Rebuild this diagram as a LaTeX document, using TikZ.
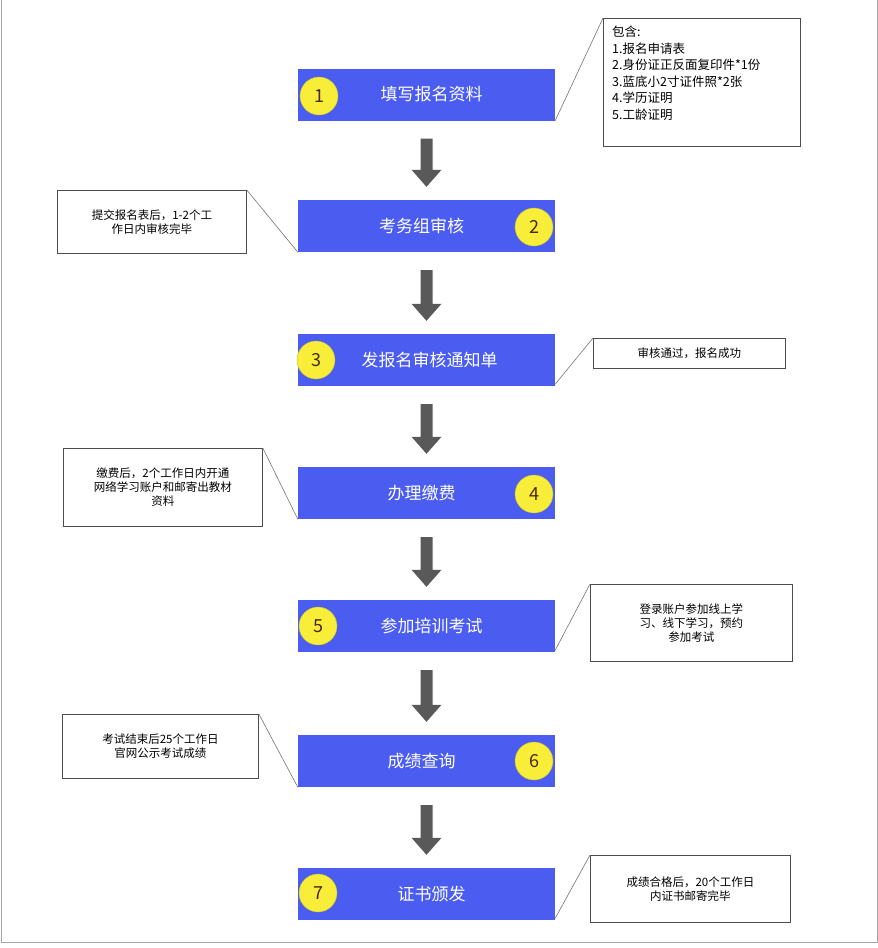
\documentclass[tikz,border=0pt]{standalone}
\usepackage{fontspec}
\usetikzlibrary{calc}
\setmainfont{Noto Sans CJK SC}
\begin{document}
\begin{tikzpicture}[x=1pt,y=-1pt,
  stepbox/.style={draw=none,fill=stepblue,minimum width=257pt,minimum height=52pt,inner sep=0pt,text=white,font=\fontsize{17}{19}\selectfont},
  num/.style={circle,fill=numyellow,draw=numyellow!80!black,line width=0.4pt,minimum size=38pt,inner sep=0pt,font=\fontsize{18}{20}\selectfont,text=black!70!orange},
  note/.style={draw=black!70,line width=0.8pt,fill=white,font=\fontsize{11.5}{14}\selectfont,align=center,inner sep=3pt},
  lead/.style={draw=black!55,line width=0.6pt}]
\definecolor{stepblue}{HTML}{4B5DF0}
\definecolor{numyellow}{HTML}{F8EE3A}
\useasboundingbox (0,0) rectangle (878,948);
\draw[black!35,line width=1pt] (1,-2) -- (1,942) -- (877,942) -- (877,-2);
% steps
\node[stepbox] (s1) at (426.5,94.5) {\hspace*{10pt}填写报名资料};
\node[stepbox] (s2) at (426.5,226) {考务组审核\hspace*{10pt}};
\node[stepbox] (s3) at (426.5,360) {\hspace*{6pt}发报名审核通知单};
\node[stepbox] (s4) at (426.5,493) {办理缴费\hspace*{10pt}};
\node[stepbox] (s5) at (426.5,626) {\hspace*{10pt}参加培训考试};
\node[stepbox] (s6) at (426.5,761) {成绩查询\hspace*{10pt}};
\node[stepbox] (s7) at (426.5,894) {\hspace*{10pt}证书颁发};
\node[num] (n1) at (319,96) {1};
\node[num] (n2) at (534,227) {2};
\node[num] (n3) at (316,360) {3};
\node[num] (n4) at (534,494) {4};
\node[num] (n5) at (318,626) {5};
\node[num] (n6) at (534,761) {6};
\node[num] (n7) at (318,893) {7};
% arrows
\foreach \a/\b in {s1/s2,s2/s3,s3/s4,s4/s5,s5/s6,s6/s7}{
  \path (\a.south) ++(0,18) coordinate (p) (\b.north) ++(0,-13) coordinate (q);
  \fill[black!65] ($(p)+(-6,0)$) -- ($(q)+(-6,-17)$) -- ($(q)+(-15,-17)$) -- (q) -- ($(q)+(15,-17)$) -- ($(q)+(6,-17)$) -- ($(p)+(6,0)$) -- cycle;
}
% notes
\node[note,minimum width=197pt,minimum height=128pt,anchor=north west] (c1) at (603,18) {};
\node[anchor=north west,align=left,font=\fontsize{12.5}{16.5}\selectfont,inner sep=0pt] (c1t) at (612,26) {包含:\\1.报名申请表\\2.身份证正反面复印件*1份\\3.蓝底小2寸证件照*2张\\4.学历证明\\5.工龄证明};
\node[note,minimum width=189pt,minimum height=63pt,anchor=north west,text width=175pt] (c2) at (57,190) {提交报名表后，1-2个工\\作日内审核完毕};
\node[note,minimum width=192pt,minimum height=30pt,anchor=north west] (c3) at (593,338) {审核通过，报名成功};
\node[note,minimum width=199pt,minimum height=78pt,anchor=north west,text width=190pt] (c4) at (63,448) {缴费后，2个工作日内开通\\网络学习账户和邮寄出教材\\资料};
\node[note,minimum width=202pt,minimum height=77pt,anchor=north west,text width=190pt] (c5) at (590,584) {登录账户参加线上学\\习、线下学习，预约\\参加考试};
\node[note,minimum width=196pt,minimum height=64pt,anchor=north west,text width=185pt] (c6) at (62,714) {考试结束后25个工作日\\官网公示考试成绩};
\node[note,minimum width=200pt,minimum height=67pt,anchor=north west,text width=190pt] (c7) at (590,855) {成绩合格后，20个工作日\\内证书邮寄完毕};
\draw[lead] (s1.south east) -- (c1.north west);
\draw[lead] (c2.north east) -- (s2.south west);
\draw[lead] (c3.north west) -- ($(s3.south east)+(0,-2)$);
\draw[lead] (c4.north east) -- (s4.south west);
\draw[lead] (c5.north west) -- ($(s5.south east)+(0,-2)$);
\draw[lead] (c6.north east) -- (s6.south west);
\draw[lead] (c7.north west) -- ($(s7.south east)+(0,-2)$);
\end{tikzpicture}
\end{document}
